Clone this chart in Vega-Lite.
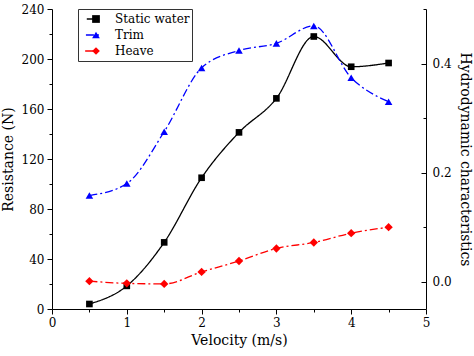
{
  "$schema": "https://vega.github.io/schema/vega-lite/v6.json",
  "width": 374,
  "height": 300,
  "autosize": {"type": "none"},
  "padding": {"left": 52, "top": 9, "right": 48, "bottom": 47},
  "background": "white",
  "config": {
    "view": {"stroke": null},
    "font": "DejaVu Serif",
    "axis": {
      "labelFont": "DejaVu Serif",
      "titleFont": "DejaVu Serif",
      "labelFontSize": 12,
      "titleFontSize": 14,
      "titleFontWeight": "normal",
      "labelColor": "black",
      "titleColor": "black",
      "domainColor": "black",
      "tickColor": "black",
      "domainWidth": 1,
      "tickWidth": 1,
      "grid": false
    }
  },
  "data": {
    "values": [
      {"series": "Static water", "velocity": 0.5, "value": 4},
      {"series": "Static water", "velocity": 1.0, "value": 18.5},
      {"series": "Static water", "velocity": 1.5, "value": 53.3},
      {"series": "Static water", "velocity": 2.0, "value": 105},
      {"series": "Static water", "velocity": 2.5, "value": 141.3},
      {"series": "Static water", "velocity": 3.0, "value": 168.5},
      {"series": "Static water", "velocity": 3.5, "value": 218},
      {"series": "Static water", "velocity": 4.0, "value": 193.8},
      {"series": "Static water", "velocity": 4.5, "value": 196.8},
      {"series": "Trim", "velocity": 0.5, "value": 0.158},
      {"series": "Trim", "velocity": 1.0, "value": 0.180},
      {"series": "Trim", "velocity": 1.5, "value": 0.275},
      {"series": "Trim", "velocity": 2.0, "value": 0.392},
      {"series": "Trim", "velocity": 2.5, "value": 0.424},
      {"series": "Trim", "velocity": 3.0, "value": 0.437},
      {"series": "Trim", "velocity": 3.5, "value": 0.469},
      {"series": "Trim", "velocity": 4.0, "value": 0.374},
      {"series": "Trim", "velocity": 4.5, "value": 0.330},
      {"series": "Heave", "velocity": 0.5, "value": 0.001},
      {"series": "Heave", "velocity": 1.0, "value": -0.003},
      {"series": "Heave", "velocity": 1.5, "value": -0.004},
      {"series": "Heave", "velocity": 2.0, "value": 0.018},
      {"series": "Heave", "velocity": 2.5, "value": 0.038},
      {"series": "Heave", "velocity": 3.0, "value": 0.061},
      {"series": "Heave", "velocity": 3.5, "value": 0.072},
      {"series": "Heave", "velocity": 4.0, "value": 0.089},
      {"series": "Heave", "velocity": 4.5, "value": 0.100}
    ]
  },
  "encoding": {
    "x": {
      "field": "velocity",
      "type": "quantitative",
      "title": "Velocity (m/s)",
      "scale": {"domain": [0, 5], "nice": false, "zero": false},
      "axis": {
        "values": [0, 0.5, 1, 1.5, 2, 2.5, 3, 3.5, 4, 4.5, 5],
        "labelExpr": "datum.value % 1 === 0 ? format(datum.value, 'd') : ''",
        "tickSize": {"condition": {"test": "datum.value % 1 === 0", "value": 5}, "value": 3},
        "labelPadding": 3,
        "titlePadding": 5,
        "labelFlush": false,
        "labelOverlap": false
      }
    }
  },
  "layer": [
    {
      "transform": [{"filter": "datum.series === 'Static water'"}],
      "encoding": {
        "y": {
          "field": "value",
          "type": "quantitative",
          "title": "Resistance (N)",
          "scale": {"domain": [0, 240], "nice": false, "zero": false},
          "axis": {
            "orient": "left",
            "values": [0, 20, 40, 60, 80, 100, 120, 140, 160, 180, 200, 220, 240],
            "labelExpr": "datum.value % 40 === 0 ? format(datum.value, 'd') : ''",
            "tickSize": {"condition": {"test": "datum.value % 40 === 0", "value": 5}, "value": 3},
            "labelPadding": 3,
            "titlePadding": 6,
            "labelFlush": false,
            "labelOverlap": false
          }
        }
      },
      "layer": [
        {
          "mark": {"type": "line", "interpolate": "monotone", "strokeWidth": 1.3},
          "encoding": {
            "stroke": {
              "field": "series",
              "type": "nominal",
              "scale": {"domain": ["Static water", "Trim", "Heave"], "range": ["#000000", "#0000ff", "#ff0000"]},
              "legend": {
                "title": null, "orient": "none", "legendX": 26, "legendY": 0,
                "strokeColor": "#333333", "fillColor": "white", "padding": 2,
                "labelFont": "DejaVu Serif", "labelFontSize": 12, "labelColor": "black",
                "labelOffset": 16, "symbolType": "M-1.875,0L1.875,0", "symbolOffset": 7, "symbolSize": 900, "clipHeight": 16,
                "rowPadding": 0, "symbolStrokeWidth": 1.4, "symbolOpacity": 1
              }
            },
            "strokeDash": {
              "field": "series",
              "type": "nominal",
              "scale": {"domain": ["Static water", "Trim", "Heave"], "range": [[1, 0], [8, 3, 2, 3], [8, 3, 2, 3]]},
              "legend": {
                "title": null, "orient": "none", "legendX": 26, "legendY": 0,
                "padding": 2, "labelFontSize": 12, "labelOffset": 16, "symbolType": "M-1.875,0L1.875,0", "symbolOffset": 7, "symbolSize": 900,
                "clipHeight": 16, "rowPadding": 0
              }
            }
          }
        },
        {
          "mark": {"type": "point", "filled": true, "opacity": 1},
          "encoding": {
            "fill": {
              "field": "series",
              "type": "nominal",
              "scale": {"domain": ["Static water", "Trim", "Heave"], "range": ["#000000", "#0000ff", "#ff0000"]},
              "legend": {
                "title": null, "orient": "top-left", "offset": 0, "padding": 2,
                "labelExpr": "''", "symbolSize": 60, "symbolOffset": 37,
                "clipHeight": 16, "rowPadding": 0, "symbolOpacity": 0, "symbolStrokeWidth": 0
              }
            },
            "shape": {
              "field": "series",
              "type": "nominal",
              "scale": {"domain": ["Static water", "Trim", "Heave"], "range": ["square", "triangle-up", "diamond"]},
              "legend": {
                "title": null, "orient": "top-left", "offset": 0, "padding": 2,
                "labelExpr": "''", "symbolSize": 60, "symbolOffset": 37, "symbolFillColor": "black",
                "clipHeight": 16, "rowPadding": 0, "symbolOpacity": 1, "symbolStrokeWidth": 0
              }
            },
            "size": {
              "field": "series",
              "type": "nominal",
              "scale": {"domain": ["Static water", "Trim", "Heave"], "range": [44, 70, 85]},
              "legend": null
            }
          }
        }
      ]
    },
    {
      "transform": [{"filter": "datum.series !== 'Static water'"}],
      "encoding": {
        "y": {
          "field": "value",
          "type": "quantitative",
          "title": "Hydrodynamic characteristics",
          "scale": {"domain": [-0.05, 0.5], "nice": false, "zero": false},
          "axis": {
            "orient": "right",
            "values": [0, 0.1, 0.2, 0.3, 0.4, 0.5],
            "labelExpr": "round(datum.value * 10) % 2 === 0 ? format(datum.value, '.1f') : ''",
            "tickSize": {"condition": {"test": "round(datum.value * 10) % 2 === 0", "value": -5}, "value": -3},
            "labelPadding": 11,
            "titlePadding": 6,
            "labelFlush": false,
            "labelOverlap": false
          }
        }
      },
      "layer": [
        {
          "mark": {"type": "line", "interpolate": "monotone", "strokeWidth": 1.3},
          "encoding": {
            "stroke": {
              "field": "series",
              "type": "nominal",
              "scale": {"domain": ["Static water", "Trim", "Heave"], "range": ["#000000", "#0000ff", "#ff0000"]},
              "legend": {
                "title": null, "orient": "none", "legendX": 26, "legendY": 0,
                "strokeColor": "#333333", "fillColor": "white", "padding": 2,
                "labelFont": "DejaVu Serif", "labelFontSize": 12, "labelColor": "black",
                "labelOffset": 16, "symbolType": "M-1.875,0L1.875,0", "symbolOffset": 7, "symbolSize": 900, "clipHeight": 16,
                "rowPadding": 0, "symbolStrokeWidth": 1.4, "symbolOpacity": 1
              }
            },
            "strokeDash": {
              "field": "series",
              "type": "nominal",
              "scale": {"domain": ["Static water", "Trim", "Heave"], "range": [[1, 0], [8, 3, 2, 3], [8, 3, 2, 3]]},
              "legend": {
                "title": null, "orient": "none", "legendX": 26, "legendY": 0,
                "padding": 2, "labelFontSize": 12, "labelOffset": 16, "symbolType": "M-1.875,0L1.875,0", "symbolOffset": 7, "symbolSize": 900,
                "clipHeight": 16, "rowPadding": 0
              }
            }
          }
        },
        {
          "mark": {"type": "point", "filled": true, "opacity": 1},
          "encoding": {
            "fill": {
              "field": "series",
              "type": "nominal",
              "scale": {"domain": ["Static water", "Trim", "Heave"], "range": ["#000000", "#0000ff", "#ff0000"]},
              "legend": {
                "title": null, "orient": "top-left", "offset": 0, "padding": 2,
                "labelExpr": "''", "symbolSize": 60, "symbolOffset": 37,
                "clipHeight": 16, "rowPadding": 0, "symbolOpacity": 0, "symbolStrokeWidth": 0
              }
            },
            "shape": {
              "field": "series",
              "type": "nominal",
              "scale": {"domain": ["Static water", "Trim", "Heave"], "range": ["square", "triangle-up", "diamond"]},
              "legend": {
                "title": null, "orient": "top-left", "offset": 0, "padding": 2,
                "labelExpr": "''", "symbolSize": 60, "symbolOffset": 37, "symbolFillColor": "black",
                "clipHeight": 16, "rowPadding": 0, "symbolOpacity": 1, "symbolStrokeWidth": 0
              }
            },
            "size": {
              "field": "series",
              "type": "nominal",
              "scale": {"domain": ["Static water", "Trim", "Heave"], "range": [44, 70, 85]},
              "legend": null
            }
          }
        }
      ]
    }
  ],
  "resolve": {"scale": {"y": "independent"}}
}
